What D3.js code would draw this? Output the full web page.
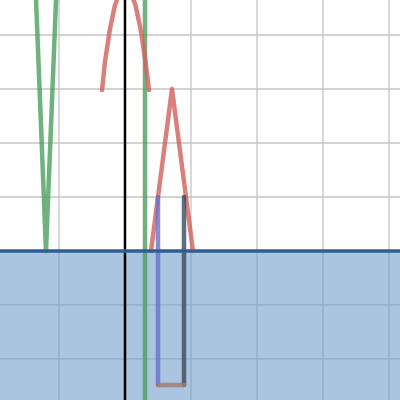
<!DOCTYPE html>
<html><head><meta charset="utf-8">
<script src="https://cdn.jsdelivr.net/npm/d3@7"></script>
<style>body{margin:0;background:#fff}svg{display:block}</style>
</head><body><svg id="c" width="400" height="400"></svg>
<script>
// graph data in plot units (one grid square = 1)
var xTicks = [-1, 0, 1, 2, 3, 4];
var yTicks = [-2, -1, 0, 1, 2, 3, 4];
var greenV = [[-1.348, 4.65], [-1.197, 0], [-1.045, 4.65]];
var greenLineX = 0.303;
var redParabola = [[-0.348, 2.981], [-0.303, 3.509], [-0.227, 4.117], [-0.152, 4.55], [-0.076, 4.81],
  [0.006, 4.898], [0.083, 4.81], [0.159, 4.55], [0.235, 4.117], [0.311, 3.509], [0.364, 2.981]];
var redTent = [[0.394, 0], [0.712, 3], [1.03, 0]];
var purpleSeg = [[0.5, 1], [0.5, -2.48]];
var darkSeg = [[0.894, 1], [0.894, -2.48]];
var brownSeg = [[0.5, -2.48], [0.894, -2.48]];

var W = 400, H = 400;
var x = d3.scaleLinear().domain([-1.894, 4.167]).range([0, W]);
var y = d3.scaleLinear().domain([-2.76, 4.648]).range([H, 0]);
var svg = d3.select('#c');
var line = d3.line().x(function(d){return x(d[0]);}).y(function(d){return y(d[1]);});

// grid
svg.selectAll('.gx').data(xTicks).enter().append('line')
  .attr('x1', x).attr('x2', x).attr('y1', 0).attr('y2', H)
  .attr('stroke', '#c4c4c4').attr('stroke-width', 1.3);
svg.selectAll('.gy').data(yTicks).enter().append('line')
  .attr('y1', y).attr('y2', y).attr('x1', 0).attr('x2', W)
  .attr('stroke', '#c4c4c4').attr('stroke-width', 1.3);

// shaded region y <= 0
svg.append('rect').attr('x', 0).attr('y', y(0)).attr('width', W).attr('height', H - y(0))
  .attr('fill', '#6f9bcb').attr('opacity', 0.58);

// y axis
svg.append('line').attr('x1', x(0)).attr('x2', x(0)).attr('y1', 0).attr('y2', H)
  .attr('stroke', '#000').attr('stroke-width', 2.5);

function path(d, c, op) {
  svg.append('path').attr('d', line(d)).attr('fill', 'none').attr('stroke', c)
    .attr('stroke-width', 4.5).attr('stroke-linecap', 'round').attr('stroke-linejoin', 'round')
    .attr('opacity', op || 0.8);
}
path(greenV, '#4a9f5c');
path([[greenLineX, 5], [greenLineX, -3]], '#4a9f5c');
path(redParabola, '#d0605c');
path(redTent, '#d0605c');
path(purpleSeg, '#6a6fc8');
path(darkSeg, '#3a4a5c');
path(brownSeg, '#a07a6a');

// boundary y = 0
svg.append('line').attr('x1', 0).attr('x2', W).attr('y1', y(0)).attr('y2', y(0))
  .attr('stroke', '#2d5f93').attr('stroke-width', 3.5);
</script></body></html>
